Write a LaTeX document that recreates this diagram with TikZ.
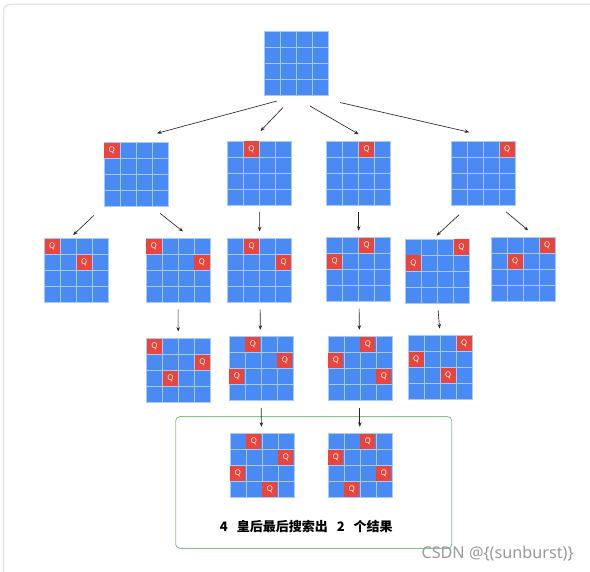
\documentclass[tikz,border=0pt]{standalone}
\usepackage{fontspec}
\setsansfont{Noto Sans}
\newfontfamily\cjk{Noto Sans CJK SC}
\usetikzlibrary{arrows.meta}
\definecolor{boardblue}{HTML}{4A8AF4}
\definecolor{queenred}{HTML}{E8453C}
\definecolor{cellline}{HTML}{A9C9FA}
\definecolor{boxgreen}{HTML}{86C589}
\definecolor{framegray}{HTML}{E4E4E4}

\tikzset{
  board/.style = {draw=cellline, line width=0.6pt, fill=boardblue, minimum size=64pt,
    inner sep=0pt, outer sep=0pt,
    path picture={
      \foreach \k in {16pt,32pt,48pt} {
        \draw[cellline, line width=0.6pt] ([xshift=\k]path picture bounding box.north west) -- ([xshift=\k]path picture bounding box.south west);
        \draw[cellline, line width=0.6pt] ([yshift=-\k]path picture bounding box.north west) -- ([yshift=-\k]path picture bounding box.north east);
      }}},
  queen/.style = {fill=queenred, minimum size=15.2pt, inner sep=0pt, text=white,
    font=\sffamily\fontsize{7.8}{8}\selectfont},
  link/.style = {-{Stealth[length=4.5pt, width=3.5pt]}, draw=black!85, line width=0.65pt},
  vlink/.style = {link, shorten <=7pt, shorten >=7pt}
}
\newcommand{\queen}[3]{\node[queen] at ([shift={(8+16*#3,8+16*#2)}]#1.north west) {Q};}

\begin{document}
\begin{tikzpicture}[x=1pt, y=-1pt]
\useasboundingbox (0,0) rectangle (590,572);
\begin{scope}
\clip (0,0) rectangle (590,572);
\draw[framegray, line width=1.5pt, rounded corners=6pt] (3.5,4.5) rectangle (640,640);
\end{scope}

%% boards
\node[board] (b0) at (296,63.5) {};
\node[board] (b1) at (136,174.3) {};
\node[board] (b2) at (259.5,173) {};
\node[board] (b3) at (358.7,173.2) {};
\node[board] (b4) at (483.2,173.2) {};
\node[board] (b5) at (76.2,270.5) {};
\node[board] (b6) at (178,270.5) {};
\node[board] (b7) at (259.7,270.3) {};
\node[board] (b8) at (358.7,269.7) {};
\node[board] (b9) at (437.5,271) {};
\node[board] (b10) at (523.2,269.7) {};
\node[board] (b11) at (178.3,370.5) {};
\node[board] (b12) at (260.8,368.8) {};
\node[board] (b13) at (359.8,368.8) {};
\node[board] (b14) at (440.2,367.5) {};
\node[board] (b15) at (261.8,465.8) {};
\node[board] (b16) at (359.8,465.8) {};

%% queens
\foreach \b/\r/\c in {b1/0/0, b2/0/1, b3/0/2, b4/0/3,
    b5/0/0, b5/1/2, b6/0/0, b6/1/3, b7/0/1, b7/1/3,
    b8/0/2, b8/1/0, b9/0/3, b9/1/0, b10/0/3, b10/1/1,
    b11/0/0, b11/1/3, b11/2/1, b12/0/1, b12/1/3, b12/2/0,
    b13/0/2, b13/1/0, b13/2/3, b14/0/3, b14/1/0, b14/2/2,
    b15/0/1, b15/1/3, b15/2/0, b15/3/2, b16/0/2, b16/1/0, b16/2/3, b16/3/1}
  \queen{\b}{\r}{\c};

%% result box
\node[draw=boxgreen, line width=0.9pt, rounded corners=4pt, minimum width=276pt,
  minimum height=131.6pt] (res) at (313.7,482.5) {};
\node[font=\fontsize{13}{15}\selectfont] (restext) at (306.3,526.7)
  {\cjk\bfseries 4\hspace{9pt}皇后最后搜索出\hspace{9pt}2\hspace{9pt}个结果};
\node[anchor=west, text=black!40, font=\sffamily\fontsize{16.2}{16}\selectfont] (mark) at (418,553.5)
  {CSDN @\{(sunburst)\}};

%% edges
\draw[link] ([shift={(-19,5.5)}]b0.south) -- ([shift={(21,-9)}]b1.north);
\draw[link] ([shift={(-13,12)}]b0.south) -- ([shift={(1,-10)}]b2.north);
\draw[link] ([shift={(14,10.5)}]b0.south) -- ([shift={(0,-7)}]b3.north);
\draw[link] ([shift={(44,7)}]b0.south) -- ([shift={(-14,-9)}]b4.north);
\draw[link] ([shift={(-42,9)}]b1.south) -- ([shift={(-3,-3.5)}]b5.north);
\draw[link] ([shift={(24,7)}]b1.south) -- ([shift={(5,-7)}]b6.north);
\draw[link] ([shift={(-24,9.4)}]b4.south) -- ([shift={(-1,-3.4)}]b9.north);
\draw[link] ([shift={(23,6.7)}]b4.south) -- ([shift={(5,-7.3)}]b10.north);
\draw[vlink] (b2) -- (b7);
\draw[vlink] (b3) -- (b8);
\draw[vlink] (b6) -- (b11);
\draw[vlink] (b7) -- (b12);
\draw[vlink] (b8) -- (b13);
\draw[vlink] (b9.south) -- (b14.north);
\draw[vlink] (b12) -- (b15);
\draw[vlink] (b13) -- (b16);

\end{tikzpicture}
\end{document}
